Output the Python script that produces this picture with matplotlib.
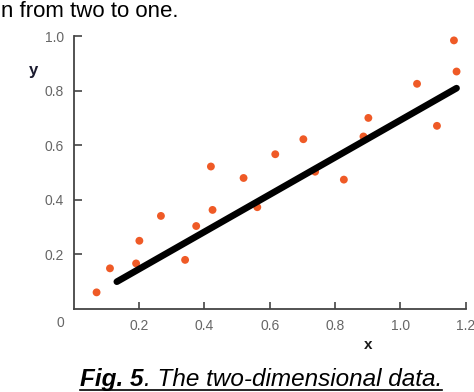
import numpy as np
import matplotlib.pyplot as plt

# scattered 2-D samples
x_pts = [0.070, 0.111, 0.191, 0.201, 0.267, 0.341, 0.375, 0.420, 0.425, 0.520,
         0.562, 0.617, 0.703, 0.739, 0.827, 0.887, 0.902, 1.051, 1.112, 1.164, 1.172]
y_pts = [0.061, 0.149, 0.167, 0.250, 0.341, 0.180, 0.304, 0.522, 0.363, 0.480,
         0.373, 0.567, 0.622, 0.503, 0.474, 0.632, 0.700, 0.825, 0.671, 0.984, 0.870]

# projected line (one-dimensional representation)
line_x = [0.132, 1.172]
line_y = [0.100, 0.809]

x_ticks = [0.2, 0.4, 0.6, 0.8, 1.0, 1.2]
y_ticks = [0.2, 0.4, 0.6, 0.8, 1.0]

plt.rcParams['font.family'] = ['Liberation Sans', 'DejaVu Sans']

W, H = 474, 392
fig = plt.figure(figsize=(W / 100, H / 100), dpi=100)
ax = fig.add_axes([0.1555, 0.2117, 0.827, 0.6964])

ax.scatter(x_pts, y_pts, s=32, color='#ef5a26', edgecolors='none', zorder=2)
ax.plot(line_x, line_y, color='black', linewidth=4.8, solid_capstyle='round', zorder=3)

ax.set_xlim(0, 1.2)
ax.set_ylim(0, 1.0)
ax.set_xticks(x_ticks)
ax.set_yticks(y_ticks)
ax.set_xticklabels([f'{v:.1f}' for v in x_ticks])
ax.set_yticklabels([f'{v:.1f}' for v in y_ticks])
ax.tick_params(direction='in', length=5, width=1.2, color='#444444',
               labelsize=10, labelcolor='#666666', pad=7)
ax.tick_params(axis='y', length=6)

for side in ['top', 'right']:
    ax.spines[side].set_visible(False)
for side in ['left', 'bottom']:
    ax.spines[side].set_color('#444444')
    ax.spines[side].set_linewidth(1.3)

# corner zero and axis names
fig.text(60 / W, 1 - 323 / H, '0', fontsize=10, color='#666666',
         ha='center', va='center')
fig.text(33 / W, 1 - 70 / H, 'y', fontsize=12, color='#1a1a2e',
         fontweight='bold', ha='center', va='center')
fig.text(368 / W, 1 - 345 / H, 'x', fontsize=11, color='#1a1a1a',
         fontweight='bold', ha='center', va='center')

# surrounding page text (cropped line of the page above the figure)
fig.text(1 / W, 1 - 17 / H, 'n from two to one.', fontsize=16, color='black',
         ha='left', va='baseline')

cap_y = 1 - 386 / H
t1 = fig.text(80 / W, cap_y, 'Fig. 5', fontsize=17.5, style='italic',
              fontweight='bold', ha='left', va='baseline')
renderer = fig.canvas.get_renderer()
bb = t1.get_window_extent(renderer)
t2 = fig.text(bb.x1 / W, cap_y, '. The two-dimensional data.', fontsize=17.5,
              style='italic', ha='left', va='baseline')
bb2 = t2.get_window_extent(renderer)
fig.add_artist(plt.Line2D([80 / W, bb2.x1 / W], [1 - 390 / H, 1 - 390 / H],
                          color='black', linewidth=1.2))

fig.savefig('out.png', dpi=100, facecolor='white')
